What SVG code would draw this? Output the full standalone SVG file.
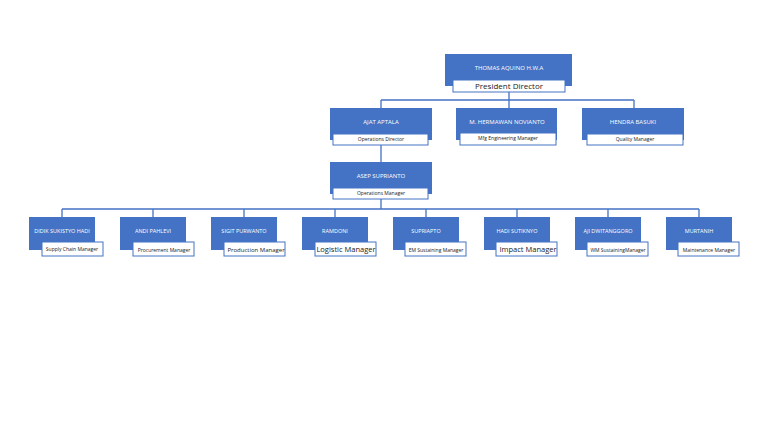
<svg xmlns="http://www.w3.org/2000/svg" width="768" height="433" viewBox="0 0 768 433">
<style>
.b{fill:#4472c4}
.w{fill:#fff;stroke:#4472c4;stroke-width:1}
.n{font-family:"Open Sans","Liberation Sans",sans-serif;fill:#fff;text-anchor:middle;font-size:6px}
.t{font-family:"Open Sans","Liberation Sans",sans-serif;fill:#222;text-anchor:middle;font-size:5px}
.c{stroke:#4472c4;stroke-width:1.3;fill:none}
</style>
<rect width="768" height="433" fill="#fff"/>
<g id="connectors" class="c">
<path d="M509 92V100M381 100H634M381 100V108M509 100V108M634 100V108M381 145V162M381 199V209M62 209H699M62 209V217M153 209V217M244 209V217M335 209V217M426 209V217M517 209V217M608 209V217M699 209V217"/>
</g>
<g id="n0"><rect class="b" x="445" y="54" width="127" height="32"/><text class="n" x="509" y="70">THOMAS AQUINO H.W.A</text><rect class="w" x="453" y="80" width="112" height="12"/><text class="t" x="509" y="89" style="font-size:8px">President Director</text></g>
<g id="n1"><rect class="b" x="330" y="108" width="102" height="32"/><text class="n" x="381" y="124">AJAT APTALA</text><rect class="w" x="333" y="134" width="95" height="11"/><text class="t" x="381" y="141">Operations Director</text></g>
<g id="n2"><rect class="b" x="456" y="108" width="101" height="32"/><text class="n" x="507" y="124">M. HERMAWAN NOVIANTO</text><rect class="w" x="460" y="133" width="96" height="12"/><text class="t" x="508" y="140">Mfg Engineering Manager</text></g>
<g id="n3"><rect class="b" x="582" y="108" width="102" height="32"/><text class="n" x="633" y="124">HENDRA BASUKI</text><rect class="w" x="587" y="134" width="96" height="11"/><text class="t" x="635" y="141">Quality Manager</text></g>
<g id="n4"><rect class="b" x="330" y="162" width="102" height="32"/><text class="n" x="381" y="178">ASEP SUPRIANTO</text><rect class="w" x="333" y="188" width="95" height="11"/><text class="t" x="381" y="195">Operations Manager</text></g>
<g id="n5"><rect class="b" x="29" y="217" width="66" height="33"/><text class="n" x="62" y="233" style="font-size:5.5px">DIDIK SUKISTYO HADI</text><rect class="w" x="42" y="242" width="61" height="14"/><text class="t" x="72" y="251">Supply Chain Manager</text></g>
<g id="n6"><rect class="b" x="120" y="217" width="66" height="33"/><text class="n" x="153" y="233" style="font-size:5.5px">ANDI PAHLEVI</text><rect class="w" x="133" y="242" width="61" height="14"/><text class="t" x="164" y="252">Procurement Manager</text></g>
<g id="n7"><rect class="b" x="211" y="217" width="66" height="33"/><text class="n" x="244" y="233" style="font-size:5.5px">SIGIT PURWANTO</text><rect class="w" x="224" y="242" width="61" height="14"/><text class="t" x="256" y="252" style="font-size:6px">Production Manager</text></g>
<g id="n8"><rect class="b" x="302" y="217" width="66" height="33"/><text class="n" x="335" y="233" style="font-size:5.5px">RAMDONI</text><rect class="w" x="315" y="242" width="61" height="14"/><text class="t" x="346" y="252" style="font-size:7.5px">Logistic Manager</text></g>
<g id="n9"><rect class="b" x="393" y="217" width="66" height="33"/><text class="n" x="426" y="233" style="font-size:5.5px">SUPRIAPTO</text><rect class="w" x="405" y="242" width="61" height="14"/><text class="t" x="436" y="252">EM Sustaining Manager</text></g>
<g id="n10"><rect class="b" x="484" y="217" width="66" height="33"/><text class="n" x="517" y="233" style="font-size:5.5px">HADI SUTIKNYO</text><rect class="w" x="496" y="242" width="61" height="14"/><text class="t" x="528" y="252" style="font-size:7.5px">Impact Manager</text></g>
<g id="n11"><rect class="b" x="575" y="217" width="66" height="33"/><text class="n" x="608" y="233" style="font-size:5.5px">AJI DWITANGGORO</text><rect class="w" x="587" y="242" width="61" height="14"/><text class="t" x="618" y="252">WM SustainingManager</text></g>
<g id="n12"><rect class="b" x="666" y="217" width="66" height="33"/><text class="n" x="699" y="233" style="font-size:5.5px">MURTANIH</text><rect class="w" x="678" y="242" width="61" height="14"/><text class="t" x="709" y="252">Maintenance Manager</text></g>
</svg>
